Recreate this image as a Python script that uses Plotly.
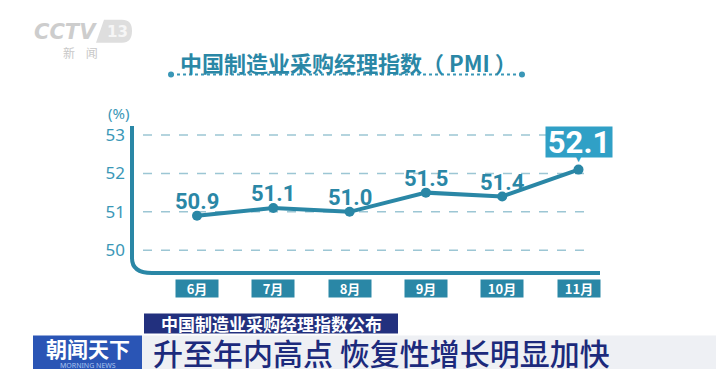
import plotly.graph_objects as go

months = ["6月", "7月", "8月", "9月", "10月", "11月"]
pmi = [50.9, 51.1, 51.0, 51.5, 51.4, 52.1]
y_ticks = [50, 51, 52, 53]
title_text = "中国制造业采购经理指数（ PMI ）"
subtitle_small = "中国制造业采购经理指数公布"
headline = "升至年内高点 恢复性增长明显加快"

TEAL = "#2a87a6"
TEAL_LIGHT = "#3a97b7"
GRID = "#9cc6d4"
NAVY = "#1c2a7c"
CJK = "Noto Sans CJK SC"
NUM = "Roboto, Liberation Sans Narrow, sans-serif"

FW, FH = 716, 369
L, T, R, B = 132, 126, 600, 272.7
W, H = R - L, B - T


def px(x):
    return (x - L) / W


def py(y):
    return (B - y) / H


xs = list(range(len(months)))
x0, dx = 197, 76.3
xr = [(L - x0) / dx, (R - x0) / dx]

fig = go.Figure()
fig.add_trace(go.Scatter(
    x=xs, y=pmi, mode="lines+markers",
    line=dict(color=TEAL, width=4),
    marker=dict(color=TEAL, size=10),
    cliponaxis=False, hoverinfo="skip",
))

shapes = []
for t in y_ticks:
    shapes.append(dict(type="line", xref="paper", yref="y", x0=px(143), x1=px(592),
                       y0=t, y1=t, line=dict(color=GRID, width=1.5, dash="dash"), layer="below"))
path = (f"M {px(132)},{py(126)} L {px(132)},{py(258)} "
        f"Q {px(132)},{py(272.7)} {px(152)},{py(272.7)} L {px(600)},{py(272.7)}")
shapes.append(dict(type="path", xref="paper", yref="paper", path=path,
                   line=dict(color=TEAL, width=4)))
shapes.append(dict(type="line", xref="paper", yref="paper", x0=px(171), x1=px(522),
                   y0=py(74.5), y1=py(74.5), line=dict(color=TEAL_LIGHT, width=2, dash="dot")))
for cx in (171, 522):
    shapes.append(dict(type="circle", xref="paper", yref="paper", x0=px(cx - 3), x1=px(cx + 3),
                       y0=py(74.5 + 3), y1=py(74.5 - 3), fillcolor=TEAL_LIGHT, line=dict(width=0)))
shapes.append(dict(type="rect", xref="paper", yref="paper", x0=px(142), x1=px(716),
                   y0=py(369), y1=py(335), fillcolor="#eef0f4", line=dict(width=0)))
shapes.append(dict(type="rect", xref="paper", yref="paper", x0=px(33), x1=px(142),
                   y0=py(369), y1=py(335), fillcolor="#2a55b5", line=dict(width=0)))
shapes.append(dict(type="rect", xref="paper", yref="paper", x0=px(144), x1=px(398),
                   y0=py(333), y1=py(313), fillcolor="#22307e", line=dict(width=0)))
shapes.append(dict(type="path", xref="paper", yref="paper",
                   path=(f"M {px(104)},{py(20)} L {px(122)},{py(20)} "
                         f"Q {px(132)},{py(20)} {px(132)},{py(31)} "
                         f"Q {px(132)},{py(43)} {px(122)},{py(43)} L {px(96)},{py(43)} Z"),
                   fillcolor="#dedede", line=dict(width=0)))

ann = []
# value labels (all but the highlighted last one)
for i, v in zip(xs[:-1], pmi[:-1]):
    ann.append(dict(x=i, y=v, xref="x", yref="y", yshift=14, text=f"<b>{v:.1f}</b>",
                    font=dict(family=NUM, size=22, color=TEAL)))
ann.append(dict(xref="paper", yref="paper", x=px(348), y=py(62), text=f"<b>{title_text}</b>",
                font=dict(family=CJK, size=22, color=TEAL)))
ann.append(dict(xref="paper", yref="paper", x=px(118), y=py(113), text="(%)",
                font=dict(family="Noto Sans", size=15, color=TEAL_LIGHT)))
for i, m in enumerate(months):
    ann.append(dict(x=i, y=py(288), xref="x", yref="paper", text=f"<b>{m}</b>",
                    bgcolor=TEAL, width=40, height=15,
                    font=dict(family=CJK, size=13, color="white")))
ann.append(dict(x=xs[-1], y=pmi[-1], xref="x", yref="y", yshift=28, text=f"<b>{pmi[-1]:.1f}</b>",
                bgcolor="#30a0c6", width=64, height=28,
                font=dict(family=NUM, size=31, color="white")))
ann.append(dict(x=xs[-1], y=pmi[-1], xref="x", yref="y", yshift=11, text="▼",
                font=dict(size=9, color="#30a0c6")))
ann.append(dict(xref="paper", yref="paper", x=px(65), y=py(32), text="<b><i>CCTV</i></b>",
                font=dict(family="DejaVu Sans", size=21, color="#cdcdcd")))
ann.append(dict(xref="paper", yref="paper", x=px(117), y=py(32), text="<b>13</b>",
                font=dict(family="DejaVu Sans", size=15, color="#f6f6f6")))
ann.append(dict(xref="paper", yref="paper", x=px(80), y=py(53), text="新    闻",
                font=dict(family=CJK, size=12, color="#c8c8c8")))
ann.append(dict(xref="paper", yref="paper", x=px(271), y=py(323), text=f"<b>{subtitle_small}</b>",
                font=dict(family=CJK, size=17, color="white")))
ann.append(dict(xref="paper", yref="paper", x=px(88), y=py(348), text="<b>朝闻天下</b>",
                font=dict(family=CJK, size=21, color="white")))
ann.append(dict(xref="paper", yref="paper", x=px(88), y=py(365), text="MORNING NEWS",
                font=dict(family="Noto Sans", size=7, color="#a9c3ef")))
ann.append(dict(xref="paper", yref="paper", x=px(381), y=py(352), text=headline,
                font=dict(family=CJK, size=30, color=NAVY, weight=500)))
for a in ann:
    a.setdefault("showarrow", False)
    a.setdefault("xanchor", "center")
    a.setdefault("yanchor", "middle")

fig.update_layout(
    width=FW, height=FH,
    margin=dict(l=L, r=FW - R, t=T, b=FH - B, autoexpand=False),
    paper_bgcolor="white", plot_bgcolor="white",
    showlegend=False,
    xaxis=dict(range=xr, showgrid=False, zeroline=False, showticklabels=False,
               showline=False, fixedrange=True),
    yaxis=dict(range=[50 - (B - 250) / 38.3, 53 + (135 - T) / 38.3], tickvals=y_ticks,
               ticktext=[str(t) for t in y_ticks], showgrid=False, zeroline=False,
               showline=False, ticks="", ticklabelstandoff=6, automargin=False,
               fixedrange=True,
               tickfont=dict(family="Noto Sans", size=17, color=TEAL_LIGHT)),
    shapes=shapes, annotations=ann,
)

fig.write_html("out.html", config={"displayModeBar": False},
               post_script="document.body.style.margin='0';document.body.style.overflow='hidden';")
